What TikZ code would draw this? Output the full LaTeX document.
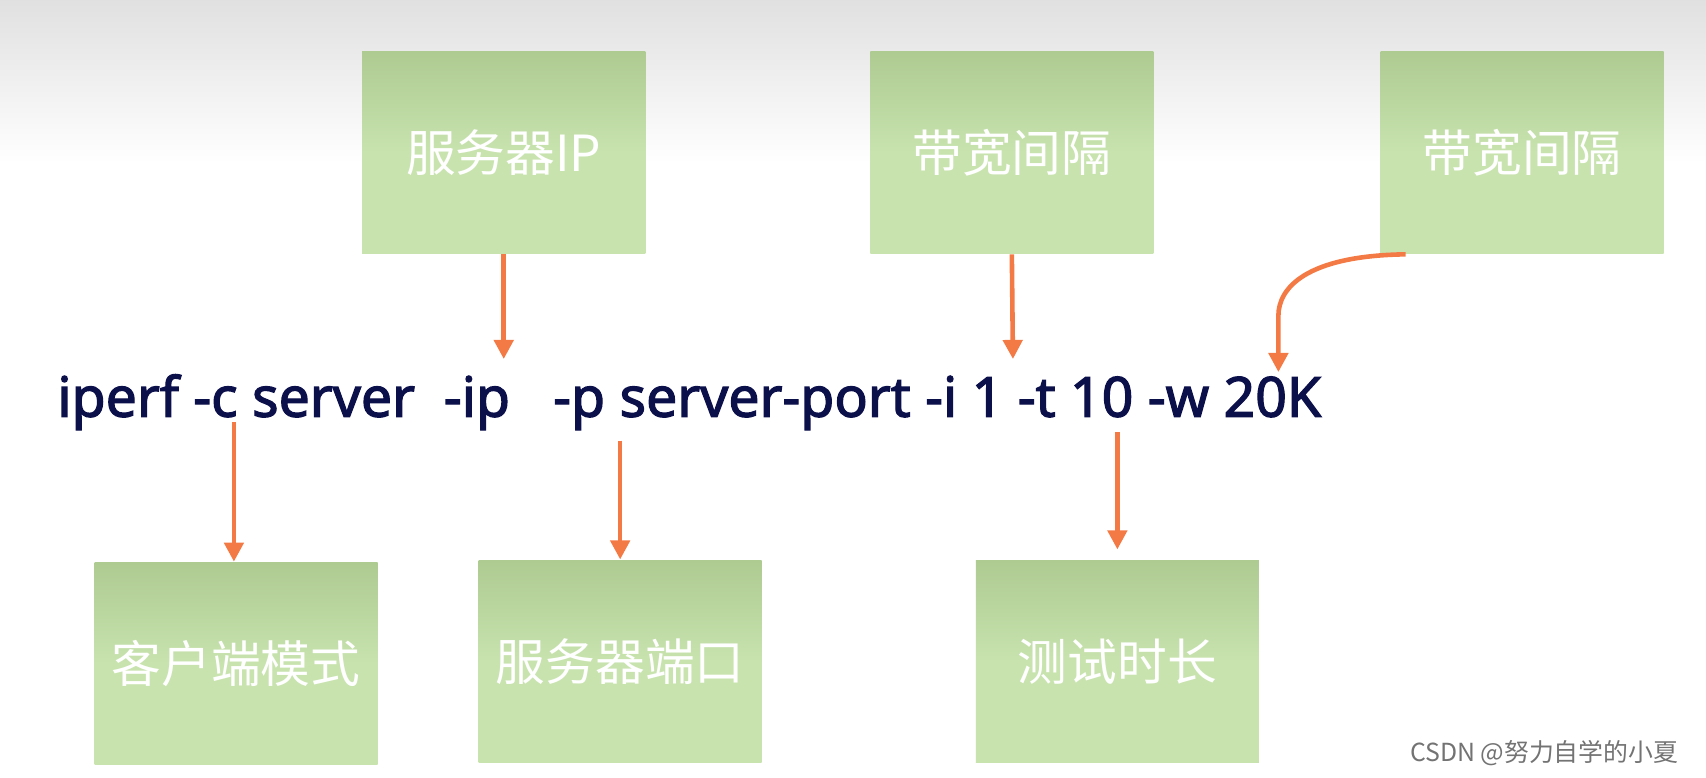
\documentclass[tikz,border=0pt]{standalone}
\usepackage{fontspec}
\setmainfont{Noto Sans}
\newfontfamily\cjk{Noto Sans CJK SC}
\newfontfamily\cmdfont{Noto Sans}[FakeBold=2.2]
\usetikzlibrary{arrows.meta}
\definecolor{boxtop}{HTML}{AECB92}
\definecolor{boxbot}{HTML}{C8E3AE}
\definecolor{arr}{HTML}{F47A45}
\definecolor{cmd}{HTML}{0B0F4A}
\tikzset{
  box/.style={minimum width=2.6cm,minimum height=1.86cm,inner sep=0pt,
    top color=boxtop,bottom color=boxbot,middle color=boxbot,
    text=white,font=\cjk\fontsize{13}{15}\selectfont},
  conn/.style={draw=arr,line width=1.2pt,-{Triangle[length=5pt,width=5pt]}}
}
\begin{document}
\begin{tikzpicture}[x=0.01cm,y=-0.01cm]
  \useasboundingbox (0,0) rectangle (1568,715);
  \shade[top color=black!12,bottom color=white] (0,0) rectangle (1568,150);
  % boxes on top
  \node[box] (ip) at (463,140) {服务器IP};
  \node[box] (bwa) at (930,140) {带宽间隔};
  \node[box] (bwb) at (1399,140) {带宽间隔};
  % boxes below
  \node[box] (mode) at (217,610) {客户端模式};
  \node[box] (port) at (570,608) {服务器端口};
  \node[box] (time) at (1027,608) {测试时长};
  % command line
  \node[anchor=base west,inner sep=0pt,text=cmd,font=\cmdfont\fontsize{19.5}{22}\selectfont]
    (cmd) at (52,383) {\resizebox{11.61cm}{!}{iperf -c server\ \ -ip\ \ \ -p server-port -i 1 -t 10 -w 20K}};
  \coordinate (ipend) at (463,330);
  \coordinate (bwaend) at (931,330);
  \coordinate (bwbend) at (1175,342);
  \coordinate (cstart) at (215,388);
  \coordinate (pstart) at (570,405);
  \coordinate (tstart) at (1027,397);
  \coordinate (tend) at (1027,505);
  \draw[conn] (ip.south) -- (ipend);
  \draw[conn] (bwa.south) -- (bwaend);
  \draw[conn] ([xshift=-1.07cm]bwb.south) .. controls (1200,235) and (1175,265) .. (1175,290) -- (bwbend);
  \draw[conn] (cstart) -- (mode.north -| cstart);
  \draw[conn] (pstart) -- (port.north);
  \draw[conn] (tstart) -- (tend);
  \node[anchor=base east,text=black!55,font=\cjk\fontsize{6.5}{8}\selectfont] (mark) at (1555,700) {CSDN @努力自学的小夏};
\end{tikzpicture}
\end{document}
